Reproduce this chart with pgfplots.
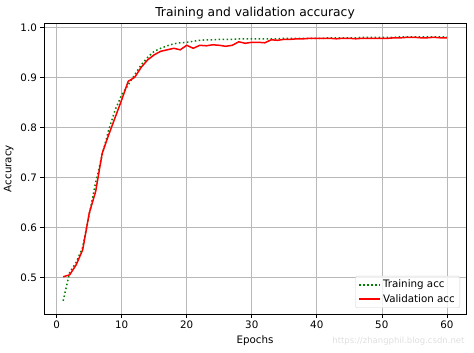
\documentclass[border=0pt]{standalone}
\usepackage{pgfplots}
\pgfplotsset{compat=1.18}
\usepackage{fontspec}
\setmainfont{DejaVu Sans}
\definecolor{mplgreen}{rgb}{0,0.5,0}
\definecolor{gridgray}{rgb}{0.72,0.72,0.72}
\begin{document}
\begin{tikzpicture}
\begin{axis}[
  scale only axis,
  width=422pt, height=291pt,
  xmin=-1.95, xmax=62.95,
  ymin=0.4266, ymax=1.0086,
  xtick={0,10,20,30,40,50,60},
  ytick={0.5,0.6,0.7,0.8,0.9,1.0},
  yticklabel style={/pgf/number format/.cd, fixed, fixed zerofill, precision=1},
  /pgf/number format/assume math mode=true,
  tick label style={font=\fontsize{10.3}{12}\selectfont},
  label style={font=\fontsize{10.3}{12}\selectfont},
  title style={font=\fontsize{12.3}{14}\selectfont, yshift=-6pt},
  title={Training and validation accuracy},
  xlabel={Epochs}, ylabel={Accuracy},
  grid=major,
  major grid style={gridgray, line width=0.6pt},
  axis line style={black, line width=0.6pt},
  tick align=outside, major tick length=3.6pt,
  tick style={black, line width=0.6pt},
  xtick pos=bottom, ytick pos=left,
  legend cell align=left,
  legend style={at={(1,0)}, anchor=south east, xshift=-6pt, yshift=6pt,
    draw=gray!35, rounded corners=2pt, fill=white, fill opacity=0.8, text opacity=1,
    font=\fontsize{10.3}{12}\selectfont, row sep=1pt},
  legend image code/.code={\draw[#1] (0pt,0pt) -- (21pt,0pt);},
]
\addplot[mplgreen, line width=1.5pt, dash pattern=on 1.5pt off 2.5pt] coordinates {
(1,0.453) (2,0.510) (3,0.530) (4,0.560) (5,0.625) (6,0.690) (7,0.745) (8,0.795)
(9,0.835) (10,0.865) (11,0.885) (12,0.905) (13,0.925) (14,0.940) (15,0.952)
(16,0.958) (17,0.963) (18,0.967) (19,0.969) (20,0.970) (21,0.972) (22,0.974)
(23,0.975) (24,0.975) (25,0.976) (26,0.976) (27,0.976) (28,0.977) (29,0.977)
(30,0.977) (31,0.977) (32,0.977) (33,0.977) (34,0.977) (35,0.978) (36,0.978)
(37,0.978) (38,0.978) (39,0.978) (40,0.978) (41,0.978) (42,0.979) (43,0.979)
(44,0.979) (45,0.979) (46,0.979) (47,0.980) (48,0.980) (49,0.980) (50,0.980)
(51,0.980) (52,0.980) (53,0.981) (54,0.981) (55,0.981) (56,0.981) (57,0.981)
(58,0.981) (59,0.981) (60,0.981)
};
\addlegendentry{Training acc}
\addplot[red, line width=1.5pt] coordinates {
(1,0.501) (2,0.505) (3,0.525) (4,0.555) (5,0.628) (6,0.672) (7,0.748) (8,0.785)
(9,0.820) (10,0.855) (11,0.892) (12,0.900) (13,0.920) (14,0.935) (15,0.945)
(16,0.952) (17,0.955) (18,0.958) (19,0.955) (20,0.964) (21,0.958) (22,0.964)
(23,0.963) (24,0.965) (25,0.964) (26,0.962) (27,0.964) (28,0.971) (29,0.968)
(30,0.970) (31,0.970) (32,0.969) (33,0.975) (34,0.974) (35,0.976) (36,0.976)
(37,0.977) (38,0.977) (39,0.978) (40,0.978) (41,0.978) (42,0.978) (43,0.977)
(44,0.978) (45,0.978) (46,0.977) (47,0.978) (48,0.978) (49,0.978) (50,0.978)
(51,0.978) (52,0.979) (53,0.979) (54,0.980) (55,0.980) (56,0.979) (57,0.979)
(58,0.980) (59,0.979) (60,0.979)
};
\addlegendentry{Validation acc}
\end{axis}
\node[anchor=east, text=gray!25, font=\fontsize{8.5}{10}\selectfont] at ([xshift=424pt,yshift=-27pt]current axis.south west) {https://zhangphil.blog.csdn.net};
\pgfresetboundingbox
\path[use as bounding box] ([xshift=-44pt,yshift=-39pt]current axis.south west) rectangle ++(474pt,353pt);
\end{tikzpicture}
\end{document}
